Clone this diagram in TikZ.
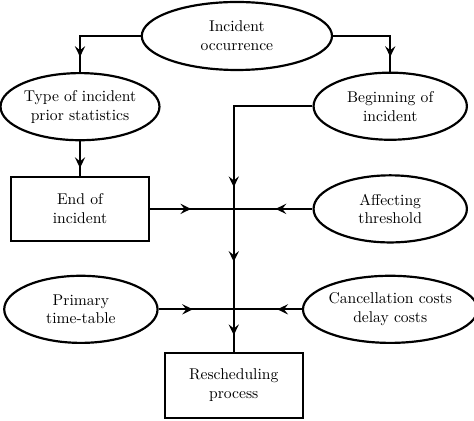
\documentclass[tikz,border=0pt]{standalone}
\usepackage{tikz}
\tikzstyle{block}=[draw, line width=1.4pt, minimum width=3.12cm, minimum height=1.44cm, align=center]
\tikzstyle{event}=[draw, ellipse, line width=1.4pt, minimum width=3.45cm, minimum height=1.51cm, inner sep=0pt, align=center]
\tikzstyle{line}=[line width=1.4pt]
\tikzstyle{arrow}=[line width=1.4pt,->,>={Stealth[length=2.4mm,width=2.3mm,inset=0.9mm]}]
\usetikzlibrary{shapes.geometric,arrows.meta,positioning,calc}

\begin{document}
\begin{tikzpicture}
    \useasboundingbox (0,0) rectangle (10.665,-9.45);
    \node [event, minimum width=4.28cm, minimum height=1.53cm] (occ) at (5.33,-0.81) {Incident\\occurrence};
    \node [event] (type) at (1.80,-2.40) {Type of incident\\prior statistics};
    \node [event] (begin) at (8.78,-2.39) {Beginning of\\incident};
    \node [block] (end) at (1.80,-4.70) {End of\\incident};
    \node [event] (aff) at (8.78,-4.70) {Affecting\\threshold};
    \node [event] (prim) at (1.82,-6.96) {Primary\\time-table};
    \node [event] (canc) at (8.78,-6.96) {Cancellation costs\\delay costs};
    \node [block, minimum width=3.1cm, minimum height=1.46cm] (resch) at (5.26,-8.67) {Rescheduling\\process};
    \coordinate (bus) at (begin.west -| resch.north);
    \coordinate (j1) at (end.east -| resch.north);
    \coordinate (j2) at (prim.east -| resch.north);
    % incident -> type / beginning
    \draw[line] (occ.west) -| (type.north);
    \draw[arrow] (occ.west -| type.north) -- +(0,-0.47);
    \draw[line] (occ.east) -| (begin.north);
    \draw[arrow] (occ.east -| begin.north) -- +(0,-0.47);
    \draw[line] (type.south) -- (end.north);
    \draw[arrow] (type.south) -- +(0,-0.6);
    % main line down to rescheduling
    \draw[line] (begin.west) -| (resch.north);
    \draw[arrow] (bus) -- ($(j1)+(0,0.49)$);
    \draw[arrow] (j1) -- ($(j1)+(0,-1.19)$);
    \draw[arrow] (j2) -- ($(j2)+(0,-0.58)$);
    % side inputs
    \draw[line] (end.east) -- (aff.west);
    \draw[arrow] (end.east) -- ($(j1)+(-0.96,0)$);
    \draw[arrow] (aff.west) -- ($(j1)+(0.94,0)$);
    \draw[line] (prim.east) -- (canc.west);
    \draw[arrow] (prim.east) -- ($(j2)+(-0.92,0)$);
    \draw[arrow] (canc.west) -- ($(j2)+(0.98,0)$);
\end{tikzpicture}
\end{document}
